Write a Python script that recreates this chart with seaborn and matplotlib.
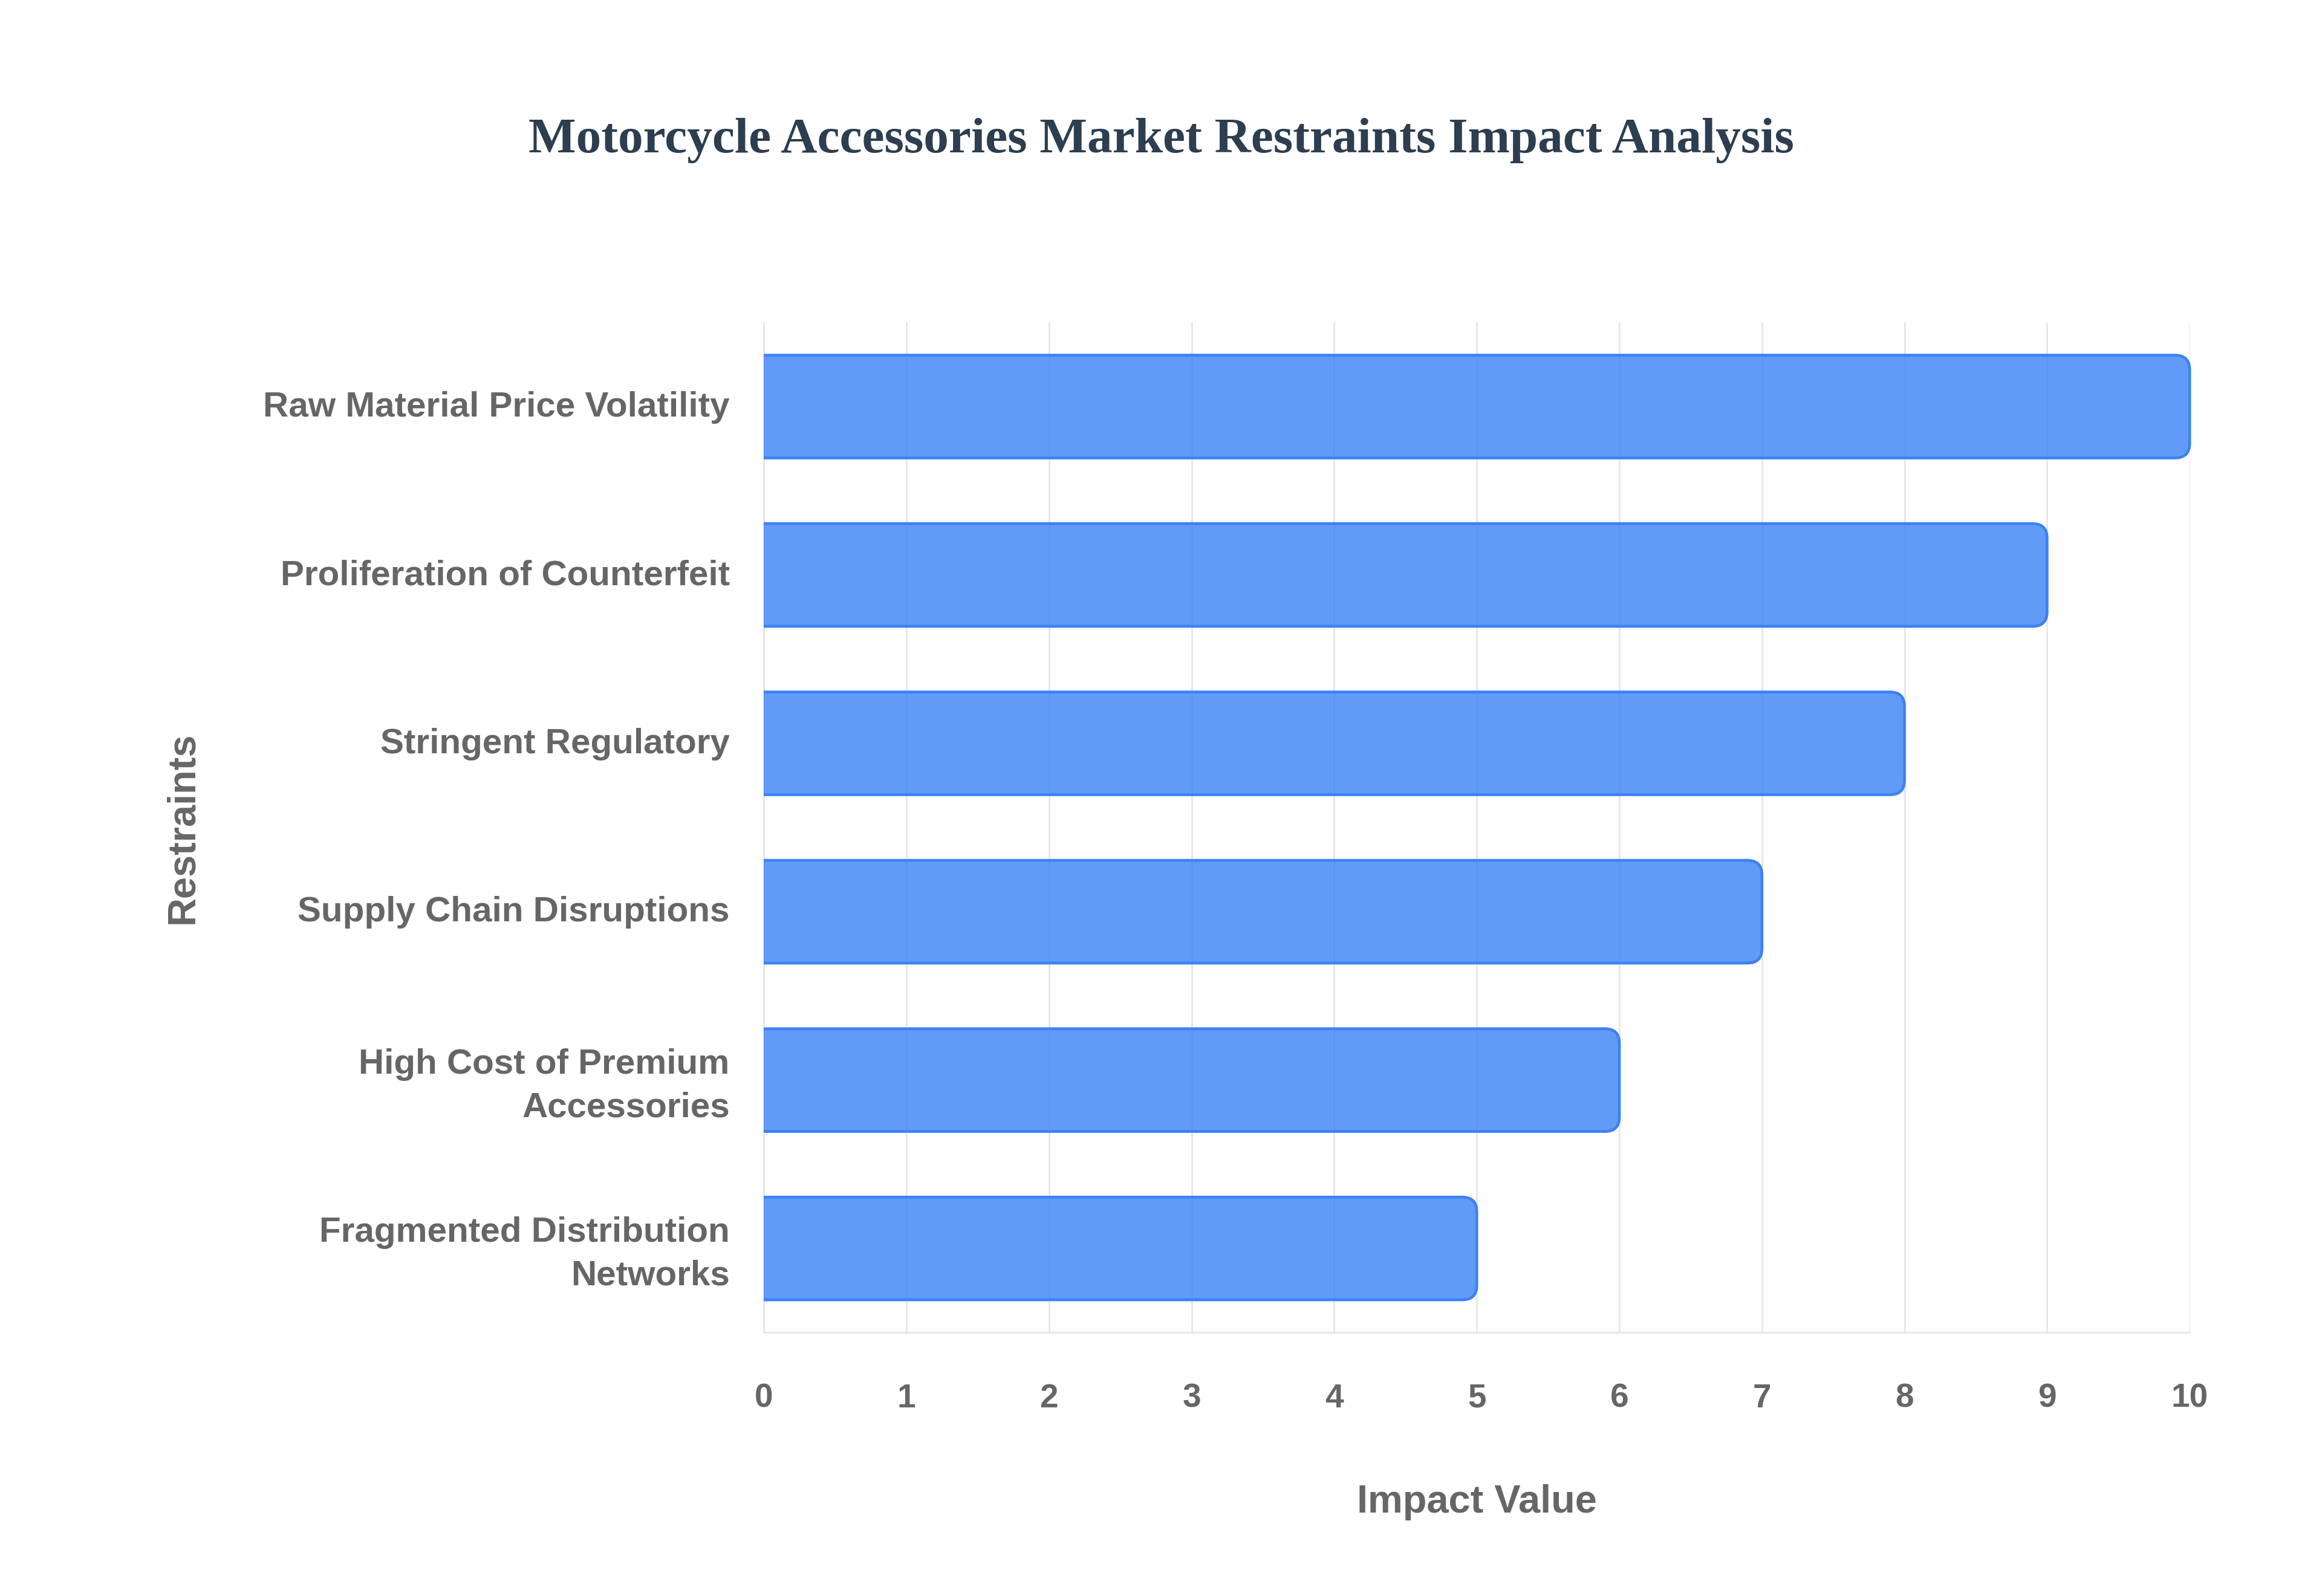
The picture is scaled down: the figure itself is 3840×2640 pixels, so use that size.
import pandas as pd
import seaborn as sns
import matplotlib.pyplot as plt
from matplotlib.patches import FancyBboxPatch
from matplotlib.transforms import Bbox, TransformedBbox, ScaledTranslation

restraints = [
    "Raw Material Price Volatility",
    "Proliferation of Counterfeit",
    "Stringent Regulatory",
    "Supply Chain Disruptions",
    "High Cost of Premium\nAccessories",
    "Fragmented Distribution\nNetworks",
]
impact = [10, 9, 8, 7, 6, 5]
x_ticks = [0, 1, 2, 3, 4, 5, 6, 7, 8, 9, 10]

df = pd.DataFrame({"Restraints": restraints, "Impact Value": impact})

sns.set_theme(style="white")
plt.rcParams["font.family"] = ["Liberation Sans", "DejaVu Sans"]

grid_col = "#e5e5e5"
label_col = "#666666"
bar_fill = (59 / 255, 130 / 255, 246 / 255, 0.8)
bar_edge = "#3b82f6"

fig = plt.figure(figsize=(16, 11), dpi=240)
ax = fig.add_axes([0.329, 0.165, 0.614, 0.633])

sns.barplot(data=df, x="Impact Value", y="Restraints", orient="h",
            width=0.61, color=bar_edge, saturation=1, ax=ax)

ax.set_xlim(0, 10)
ax.set_ylim(len(restraints) - 0.5, -0.5)

# swap the plain bars for ones rounded on the right end
px_x = ax.bbox.width / 10
px_y = ax.bbox.height / len(restraints)
r_px = 24
rx = r_px / px_x
aspect = (r_px / px_y) / rx
clip = TransformedBbox(Bbox([[0, -1], [11, len(restraints) + 1]]), ax.transData)
for bar in list(ax.patches):
    x0, y0 = bar.get_x(), bar.get_y()
    w, h = bar.get_width(), bar.get_height()
    bar.remove()
    p = FancyBboxPatch((x0 - 0.3, y0), w + 0.3, h,
                       boxstyle=f"round,pad=0,rounding_size={rx}",
                       mutation_aspect=aspect, fc=bar_fill, ec=bar_edge,
                       lw=1.4, zorder=3)
    ax.add_patch(p)
    p.set_clip_box(clip)

ax.set_xticks(x_ticks)
ax.xaxis.grid(True, color=grid_col, lw=0.8, zorder=0)
ax.yaxis.grid(False)
ax.set_axisbelow(True)

for s in ["top", "right"]:
    ax.spines[s].set_visible(False)
for s in ["left", "bottom"]:
    ax.spines[s].set_color(grid_col)
    ax.spines[s].set_linewidth(0.8)

ax.tick_params(axis="x", length=10, width=0.8, color=grid_col, pad=15,
               labelsize=16.5, labelcolor=label_col)
ax.tick_params(axis="y", length=0, pad=17, labelsize=17.5, labelcolor=label_col)
for t in ax.get_xticklabels() + ax.get_yticklabels():
    t.set_fontweight("bold")
nudge = ScaledTranslation(0, 1.5 / 72, fig.dpi_scale_trans)
for t in ax.get_yticklabels():
    t.set_linespacing(1.42)
    t.set_transform(t.get_transform() + nudge)

ax.set_xlabel("Impact Value", fontsize=19.5, fontweight="bold", color=label_col)
ax.set_ylabel("Restraints", fontsize=19.5, fontweight="bold", color=label_col)
ax.xaxis.set_label_coords(0.5, -0.168)
ax.xaxis.label.set_va("center")
ax.yaxis.set_label_coords(-0.4075, 0.5)
ax.yaxis.label.set_va("center")

fig.text(0.5, 0.912, "Motorcycle Accessories Market Restraints Impact Analysis",
         ha="center", va="center", fontsize=25, fontweight="bold",
         color="#2c3e50", family=["Liberation Serif", "DejaVu Serif"])

fig.savefig("out.png", dpi=240)
